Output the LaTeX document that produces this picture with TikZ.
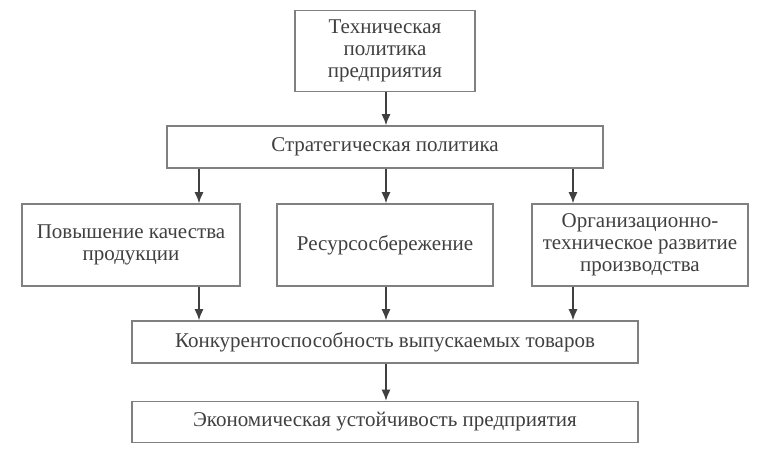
\documentclass[tikz,border=0pt]{standalone}
\usepackage{fontspec}
\setmainfont{Liberation Serif}
\usetikzlibrary{arrows.meta}

\begin{document}
\begin{tikzpicture}[x=1pt, y=-1pt,
	block/.style={rectangle, draw=black!50, line width=1.6pt, fill=white, align=center, text=black!75, inner sep=2pt, font=\fontsize{21}{22}\selectfont},
	links/.style={-{Latex[length=11pt,width=9pt]}, line width=1.3pt, draw=black!75}]
	
		\useasboundingbox[fill=white] (0,0) rectangle (774,466);
		
		\node[block, minimum width=180, minimum height=81] at (385, 51) (techpolicy) {Техническая\\политика\\предприятия};
		\node[block, minimum width=436, minimum height=42] at (385, 147) (strategy) {Стратегическая политика};
		
		\node[block, minimum width=218, minimum height=82] at (131, 245) (quality) {Повышение качества\\продукции};
		\node[block, minimum width=216, minimum height=82] at (385, 245) (resources) {Ресурсосбережение};
		\node[block, minimum width=216, minimum height=82] at (640, 245) (development) {Организационно-\\техническое развитие\\производства};
		
		\node[block, minimum width=506, minimum height=42] at (385, 342) (competitiveness) {Конкурентоспособность выпускаемых товаров};
		\node[block, minimum width=506, minimum height=41] at (385, 422) (stability) {Экономическая устойчивость предприятия};
		
		\coordinate (column1) at (199, 0);
		\coordinate (column2) at (386, 0);
		\coordinate (column3) at (573, 0);
		
		\draw[links] (column2 |- techpolicy.south) -- (column2 |- strategy.north);
		
		\draw[links] (column1 |- strategy.south) -- (column1 |- quality.north);
		\draw[links] (column2 |- strategy.south) -- (column2 |- resources.north);
		\draw[links] (column3 |- strategy.south) -- (column3 |- development.north);
		
		\draw[links] (column1 |- quality.south) -- (column1 |- competitiveness.north);
		\draw[links] (column2 |- resources.south) -- (column2 |- competitiveness.north);
		\draw[links] (column3 |- development.south) -- (column3 |- competitiveness.north);
		
		\draw[links] (column2 |- competitiveness.south) -- (column2 |- stability.north);
	\end{tikzpicture}
\end{document}
